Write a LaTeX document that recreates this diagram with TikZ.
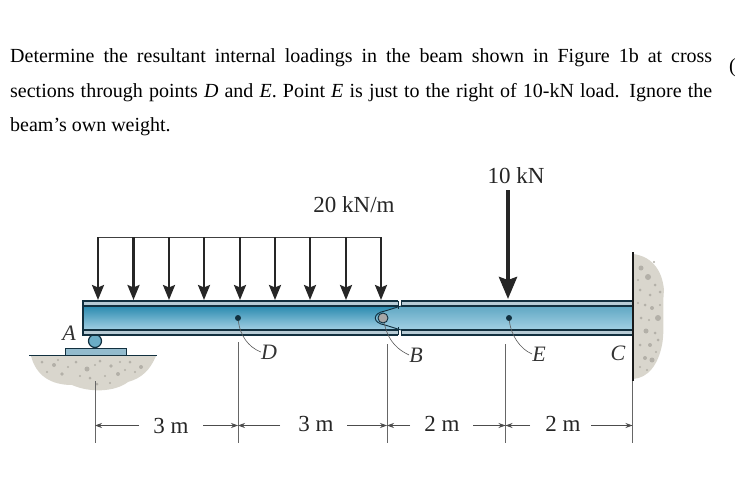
\documentclass[tikz,border=0pt]{standalone}
\usepackage{fontspec}
\setmainfont{Liberation Serif}
\usetikzlibrary{arrows.meta}
\definecolor{beamdark}{HTML}{12303F}
\definecolor{webtop}{HTML}{2A8AAF}
\definecolor{webbot}{HTML}{A3D0E4}
\definecolor{flange}{HTML}{B7CBD5}
\definecolor{soil}{HTML}{D9D6CD}
\definecolor{grit}{HTML}{B3B0A8}

\begin{document}
\begin{tikzpicture}[
  x=1pt, y=-1pt,
  udl/.style={-{Stealth[length=15pt,width=12pt,inset=2.5pt]}, line width=2.4pt, draw=black!85},
  pointload/.style={-{Stealth[length=22pt,width=18pt,inset=3pt]}, line width=4pt, draw=black!85},
  dimarr/.style={-{Stealth[length=7pt,width=5pt]}, line width=0.6pt, draw=black!70},
  tick/.style={line width=0.7pt, draw=black!60},
  leader/.style={line width=0.6pt, draw=black!65},
  lab/.style={font=\fontsize{23}{24}\selectfont, inner sep=0pt, text=black!85},
  pnt/.style={font=\fontsize{22}{24}\selectfont\itshape, inner sep=0pt, text=black!80},
  dot/.style={circle, fill=beamdark, inner sep=0pt, minimum size=6pt}
]
\useasboundingbox (0,0) rectangle (736,484);

% Problem statement
\node[anchor=north west, inner sep=0pt, text width=702pt, align=justify,
  font=\fontsize{20}{34.6}\selectfont] (question) at (10,48.5)
{Determine the resultant internal loadings in the beam shown in Figure 1b at cross\linebreak
sections through points \textit{D} and \textit{E}. Point \textit{E} is just to the right of 10-kN load. Ignore the\linebreak
beam’s own weight.};
\node[anchor=west, inner sep=0pt, font=\fontsize{20}{24}\selectfont] (cutoff) at (729,68) {(};

% Soil under the roller and behind the wall
\fill[soil] (31,356) -- (156,356) .. controls (150,370) and (142,378) .. (128,382)
  .. controls (115,392) and (90,393) .. (72,385) .. controls (50,385) and (36,375) .. cycle;
\fill[soil] (633,254) .. controls (650,256) and (662,268) .. (664,290)
  .. controls (662,310) and (665,330) .. (662,345) .. controls (658,365) and (648,378) .. (633,379) -- cycle;
\foreach \x/\y/\r in {42/362/1.5, 54/365/2, 62/374/1.8, 76/362/1.5, 87/369/2.5, 100/361/1.5,
  111/366/1.8, 118/374/2, 130/362/1.5, 141/367/2, 90/378/1.5, 47/372/1.2, 105/376/1.2, 125/370/1.2,
  68/367/1.2, 80/376/1.2, 95/365/1.2, 97/384/1.5, 120/362/1.2, 135/372/1.2, 58/360/1.2, 110/383/1.2,
  641/268/2.5, 648/277/3, 655/285/1.5, 640/290/1.5, 650/295/1.5, 660/292/1.5, 645/305/1.5,
  652/308/2, 658/318/3, 641/318/1.5, 646/331/2.5, 655/333/1.5, 640/345/1.5, 650/345/2,
  658/340/1.5, 645/358/2, 652/360/2.5, 640/367/1.2, 638/280/1.2, 654/262/1.2, 660/305/1.2,
  649/320/1.2, 638/303/1.2, 656/352/1.2, 647/370/1.2}
  \fill[grit] (\x,\y) circle (\r);

% Ground line, base plate and roller
\coordinate (gl) at (29,355);
\coordinate (gr) at (157,355);
\draw[beamdark, line width=1pt] (gl) -- (gr);
\draw[beamdark, line width=0.9pt, fill=webbot!90!black] (65,348) rectangle (126,355);
\node[circle, draw=beamdark, line width=1.2pt, fill=webtop!70!white, inner sep=0pt, minimum size=13pt] (roller) at (95,341) {};

% Beam AB
\fill[flange] (83,301) rectangle (398,335);
\shade[top color=webtop, bottom color=webbot] (83,306) -- (398,306) -- (398,313) -- (390,313)
  -- (390,323) -- (398,323) -- (398,330) -- (83,330) -- cycle;
\draw[beamdark, line width=1.6pt] (398,301) -- (83,301) -- (83,335) -- (398,335);
\draw[beamdark, line width=1.3pt] (83,306) -- (398,306);
\draw[beamdark, line width=1.3pt] (83,330) -- (398,330);

% Beam BC with its forked end
\fill[flange] (401,301) rectangle (632,335);
\shade[top color=webtop!75!white, bottom color=webbot] (375,318) -- (385,311) -- (401,306) -- (632,306) -- (632,330)
  -- (401,330) -- (385,325) -- cycle;
\draw[beamdark, line width=1.6pt] (401,301) -- (632,301);
\draw[beamdark, line width=1.6pt] (401,335) -- (632,335);
\draw[beamdark, line width=1.3pt] (401,306) -- (632,306);
\draw[beamdark, line width=1.3pt] (401,330) -- (632,330);
\draw[beamdark, line width=0.8pt] (398,301) -- (398,309) (401,301) -- (401,306);
\draw[beamdark, line width=0.8pt] (398,335) -- (398,327) (401,335) -- (401,330);
\draw[beamdark, line width=0.9pt] (401,306) -- (385,311) .. controls (372,313) and (372,323) .. (385,325) -- (401,330);

% Pin at B
\node[circle, draw=beamdark, line width=0.9pt, fill=black!35, inner sep=0pt, minimum size=10pt] (pinB) at (383,318) {};

% Wall at C
\coordinate (wt) at (632.5,252);
\coordinate (wb) at (632.5,381);
\draw[black!90, line width=2pt] (wt) -- (wb);

% Distributed load
\coordinate (qs) at (97,237);
\coordinate (qe) at (382,237);
\draw[black!75, line width=0.8pt] (qs) -- (qe);
\foreach \n/\x in {1/98,2/133.5,3/169,4/204,5/240,6/275,7/310,8/346,9/381} {
  \coordinate (qt\n) at (\x,237);
  \coordinate (qb\n) at (\x,300);
  \draw[udl] (qt\n) -- (qb\n);
}
\node[lab] (qlab) at (354,205) {20 kN/m};

% Point load
\coordinate (Pt) at (508,190);
\coordinate (Pb) at (508,299);
\draw[pointload] (Pt) -- (Pb);
\node[lab] (Plab) at (516,176) {10 kN};

% Points and their labels
\node[pnt] (A) at (69,333) {A};
\node[dot] (Dp) at (238,318) {};
\node[dot] (Ep) at (509,318) {};
\node[pnt] (D) at (269,352) {D};
\node[pnt] (B) at (416,355) {B};
\node[pnt] (E) at (539,354) {E};
\node[pnt] (C) at (618,353) {C};
\draw[leader] (Dp) .. controls (240,335) and (248,347) .. (D.west);
\draw[leader] (pinB) .. controls (387,335) and (392,347) .. (B.west);
\draw[leader] (Ep) .. controls (511,335) and (520,349) .. (E.west);

% Dimension ticks
\foreach \n/\x/\y in {a/95/381, b/238/342, c/387/344, d/505.5/344, e/632.5/381} {
  \coordinate (\n t) at (\x,\y);
  \coordinate (\n b) at (\x,443);
  \coordinate (\n m) at (\x,425.5);
  \draw[tick] (\n t) -- (\n b);
}

% Dimension labels and arrows
\node[lab] (d1) at (171,426) {3 m};
\node[lab] (d2) at (316,424) {3 m};
\node[lab] (d3) at (442,424) {2 m};
\node[lab] (d4) at (563,424) {2 m};
\coordinate (d1l) at (139,425.5); \coordinate (d1r) at (203,425.5);
\coordinate (d2l) at (280,425.5); \coordinate (d2r) at (347,425.5);
\coordinate (d3l) at (410,425.5); \coordinate (d3r) at (473,425.5);
\coordinate (d4l) at (530,425.5); \coordinate (d4r) at (591,425.5);
\draw[dimarr] (d1l) -- (am);
\draw[dimarr] (d1r) -- (bm);
\draw[dimarr] (d2l) -- (bm);
\draw[dimarr] (d2r) -- (cm);
\draw[dimarr] (d3l) -- (cm);
\draw[dimarr] (d3r) -- (dm);
\draw[dimarr] (d4l) -- (dm);
\draw[dimarr] (d4r) -- (em);

\end{tikzpicture}
\end{document}
